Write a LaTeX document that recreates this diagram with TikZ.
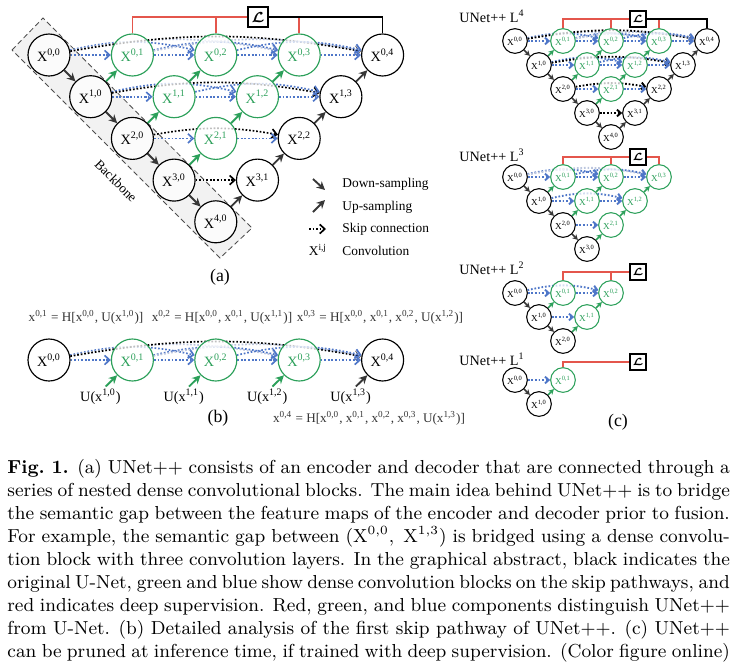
\documentclass[tikz,border=0pt]{standalone}
\usepackage{amsmath, amssymb}
\usepackage{fontspec}
\usepackage{tikz}
\usetikzlibrary{arrows.meta}
\newfontfamily\xfont{Liberation Serif}

\definecolor{ugreen}{RGB}{44,160,90}
\definecolor{ured}{RGB}{228,86,76}
\definecolor{ublue}{RGB}{78,118,200}
\definecolor{ulight}{RGB}{188,198,222}
\definecolor{udark}{RGB}{55,55,55}

\pgfdeclarelayer{edges}
\pgfsetlayers{edges,main}

\tikzset{
  xnode/.style = {circle, draw, fill=white, fill opacity=.75, text opacity=1,
    inner sep=0pt, minimum size=20.1pt, line width=.55pt,
    font=\xfont\fontsize{6.8}{7}\selectfont},
  down/.style = {-{Stealth[length=4pt,width=4pt]}, line width=.9pt, draw=udark},
  skipk/.style = {-{Straight Barb[length=2.4pt,width=4.4pt]}, line width=.8pt,
    dash pattern=on .8pt off .9pt},
  lossbox/.style = {draw, fill=white, line width=1pt, inner sep=0pt,
    minimum width=10pt, minimum height=9.6pt, font=\fontsize{7}{8}\selectfont},
  redline/.style = {draw=ured, line width=.7pt},
  blkline/.style = {draw=black, line width=.8pt},
  backbone/.style = {draw=black!70, fill=black!5, line width=.4pt,
    dash pattern=on 2.5pt off 1.5pt},
  legend/.style = {inner sep=0pt, font=\xfont\fontsize{6.4}{7}\selectfont},
  formula/.style = {inner sep=0pt, text=black!80, font=\xfont\fontsize{6.3}{7}\selectfont},
  ulabel/.style = {inner sep=0pt, font=\xfont\fontsize{6.8}{7}\selectfont},
  sublabel/.style = {inner sep=0pt, font=\xfont\fontsize{8.5}{9}\selectfont},
  cnet/.style = {
    xnode/.append style = {minimum size=11.8pt, line width=.5pt,
      font=\xfont\fontsize{4.4}{5}\selectfont},
    down/.append style = {-{Stealth[length=2.6pt,width=2.8pt]}, line width=.7pt},
    skipk/.append style = {-{Straight Barb[length=1.8pt,width=3.2pt]}, line width=.9pt},
    lossbox/.append style = {minimum width=7.8pt, minimum height=7.3pt,
      line width=.9pt, font=\fontsize{5}{6}\selectfont}}
}

% dense skip connections of one row
\newcommand{\skipedges}[3]{% #1 name, #2 row, #3 last column
  \foreach \j in {1,...,#3} {
    \pgfmathtruncatemacro{\jm}{\j-1}
    \foreach \k in {0,...,\jm} {
      \pgfmathtruncatemacro{\gap}{\j-\k}
      \pgfmathtruncatemacro{\blk}{(\k==0)&&(#2+\j==4)}
      \ifnum\blk=1
        \def\scol{black}\ifnum\gap=1 \def\sbend{0}\else\def\sbend{10}\fi
      \else
        \ifcase\gap\or \def\scol{ublue}\def\sbend{0}%
        \or \def\scol{ublue}\def\sbend{13}%
        \else \def\scol{ulight}\def\sbend{11}\fi
      \fi
      \draw[skipk, draw=\scol] (#1-#2-\k) to[bend left=\sbend] (#1-#2-\j);
    }
  }
}

% nested nodes of depth #2
\newcommand{\unetpp}[5]{% #1 name, #2 depth, #3 #4 origin, #5 step
  \foreach \i in {0,...,#2} {
    \pgfmathtruncatemacro{\jmax}{#2-\i}
    \foreach \j in {0,...,\jmax} {
      \pgfmathtruncatemacro{\blk}{(\j==0)||(\i+\j==4)}
      \ifnum\blk=1 \def\xcol{black}\else\def\xcol{ugreen}\fi
      \node[xnode, draw=\xcol, text=\xcol] (#1-\i-\j)
        at ({#3+#5*(\i+2*\j)}, {#4-#5*\i}) {X\textsuperscript{\i,\j}};
    }
  }
  \begin{pgfonlayer}{edges}
    \foreach \i in {0,...,#2} {
      \pgfmathtruncatemacro{\ii}{\i+1}
      \ifnum\i<#2 \draw[down] (#1-\i-0) -- (#1-\ii-0); \fi
      \pgfmathtruncatemacro{\jmax}{#2-\i}
      \ifnum\jmax>0
        \skipedges{#1}{\i}{\jmax}
        \foreach \j in {1,...,\jmax} {
          \pgfmathtruncatemacro{\jj}{\j-1}
          \pgfmathtruncatemacro{\blk}{\i+\j==4}
          \ifnum\blk=1 \def\ucol{udark}\else\def\ucol{ugreen}\fi
          \draw[down, draw=\ucol] (#1-\ii-\jj) -- (#1-\i-\j);
        }
      \fi
    }
  \end{pgfonlayer}
}

% deep supervision lines
\newcommand{\losslines}[3]{% #1 name, #2 depth, #3 loss node
  \foreach \j in {1,...,#2} {
    \ifnum\j=4 \draw[blkline] (#3) -| (#1-0-\j);
    \else \draw[redline] (#3) -| (#1-0-\j); \fi
  }
}

\begin{document}
\begin{tikzpicture}[x=0.4785pt, y=0.4785pt]
  \useasboundingbox (0,0) rectangle (737,-664);

  % (a)
  \begin{pgfonlayer}{edges}
    \draw[backbone] (12,-50) -- (43,-18) -- (252,-228) -- (220,-258) -- cycle;
  \end{pgfonlayer}
  \node[legend, rotate=-45] (bb) at (116,-181) {Backbone};
  \unetpp{a}{4}{49}{-55}{41.7}
  \node[lossbox] (a-loss) at (258,-17) {$\boldsymbol{\mathcal{L}}$};
  \losslines{a}{4}{a-loss}

  \node[legend, anchor=west] (lg-down) at (342,-184) {Down-sampling};
  \node[legend, anchor=west] (lg-up) at (342,-207) {Up-sampling};
  \node[legend, anchor=west] (lg-skip) at (342,-229) {Skip connection};
  \node[legend, anchor=west] (lg-conv) at (342,-251) {Convolution};
  \node[legend] (lg-x) at (318,-250) {X\textsuperscript{i,j}};
  \coordinate (dn-a) at (313,-179); \coordinate (dn-b) at (325,-190);
  \coordinate (up-a) at (313,-212); \coordinate (up-b) at (325,-200);
  \coordinate (sk-a) at (309,-229); \coordinate (sk-b) at (326,-229);
  \draw[down] (dn-a) -- (dn-b);
  \draw[down] (up-a) -- (up-b);
  \draw[skipk] (sk-a) -- (sk-b);
  \node[sublabel] (lab-a) at (220,-277) {(a)};

  % (b)
  \foreach \j in {0,...,4} {
    \pgfmathtruncatemacro{\blk}{(\j==0)||(\j==4)}
    \ifnum\blk=1 \def\xcol{black}\else\def\xcol{ugreen}\fi
    \node[xnode, draw=\xcol, text=\xcol] (b-0-\j) at ({49+83.4*\j}, -360) {X\textsuperscript{0,\j}};
  }
  \begin{pgfonlayer}{edges}
    \skipedges{b}{0}{4}
  \end{pgfonlayer}
  \foreach \j/\s in {1/0, 2/1, 3/2, 4/3} {
    \ifnum\j=4 \def\ucol{udark}\else\def\ucol{ugreen}\fi
    \node[ulabel] (u-\j) at ({17+83.4*\j}, -397) {U(x\textsuperscript{1,\s})};
    \draw[down, draw=\ucol] ([xshift=2.5pt, yshift=1pt]u-\j.north) -- (b-0-\j.south west);
  }
  \node[formula] (f-1) at (86,-317) {x\textsuperscript{0,1} = H[x\textsuperscript{0,0}, U(x\textsuperscript{1,0})]};
  \node[formula] (f-2) at (222,-317) {x\textsuperscript{0,2} = H[x\textsuperscript{0,0}, x\textsuperscript{0,1}, U(x\textsuperscript{1,1})]};
  \node[formula] (f-3) at (380,-317) {x\textsuperscript{0,3} = H[x\textsuperscript{0,0}, x\textsuperscript{0,1}, x\textsuperscript{0,2}, U(x\textsuperscript{1,2})]};
  \node[formula] (f-4) at (369,-418) {x\textsuperscript{0,4} = H[x\textsuperscript{0,0}, x\textsuperscript{0,1}, x\textsuperscript{0,2}, x\textsuperscript{0,3}, U(x\textsuperscript{1,3})]};
  \node[sublabel] (lab-b) at (218,-418) {(b)};

  % (c)
  \begin{scope}[cnet]
    \unetpp{c4}{4}{515}{-41}{24}
    \node[lossbox] (c4-loss) at (638,-19) {$\boldsymbol{\mathcal{L}}$};
    \losslines{c4}{4}{c4-loss}
    \unetpp{c3}{3}{515}{-177}{24}
    \node[lossbox] (c3-loss) at (638,-157) {$\boldsymbol{\mathcal{L}}$};
    \losslines{c3}{3}{c3-loss}
    \unetpp{c2}{2}{515}{-293}{24}
    \node[lossbox] (c2-loss) at (638,-272) {$\boldsymbol{\mathcal{L}}$};
    \losslines{c2}{2}{c2-loss}
    \unetpp{c1}{1}{515}{-380}{24}
    \node[lossbox] (c1-loss) at (638,-362) {$\boldsymbol{\mathcal{L}}$};
    \losslines{c1}{1}{c1-loss}
  \end{scope}
  \foreach \k/\y in {4/16, 3/155, 2/268, 1/359}
    \node[ulabel] (name-\k) at (492,-\y) {UNet++ L\textsuperscript{\k}};
  \node[sublabel] (lab-c) at (618,-422) {(c)};

  % caption
  \node[anchor=north west, inner sep=0pt, text width=345.7pt, align=justify,
    font=\small] (caption) at (7,-459) {\parfillskip=0pt
    \textbf{Fig.~1.} (a) UNet++ consists of an encoder and decoder that are connected through a\linebreak
    series of nested dense convolutional blocks. The main idea behind UNet++ is to bridge\linebreak
    the semantic gap between the feature maps of the encoder and decoder prior to fusion.\linebreak
    For example, the semantic gap between $(\mathrm{X}^{0,0},\ \mathrm{X}^{1,3})$ is bridged using a dense convolu-\linebreak
    tion block with three convolution layers. In the graphical abstract, black indicates the\linebreak
    original U-Net, green and blue show dense convolution blocks on the skip pathways, and\linebreak
    red indicates deep supervision. Red, green, and blue components distinguish UNet++\linebreak
    from U-Net. (b) Detailed analysis of the first skip pathway of UNet++. (c) UNet++\linebreak
    can be pruned at inference time, if trained with deep supervision. (Color figure online)};
\end{tikzpicture}
\end{document}
